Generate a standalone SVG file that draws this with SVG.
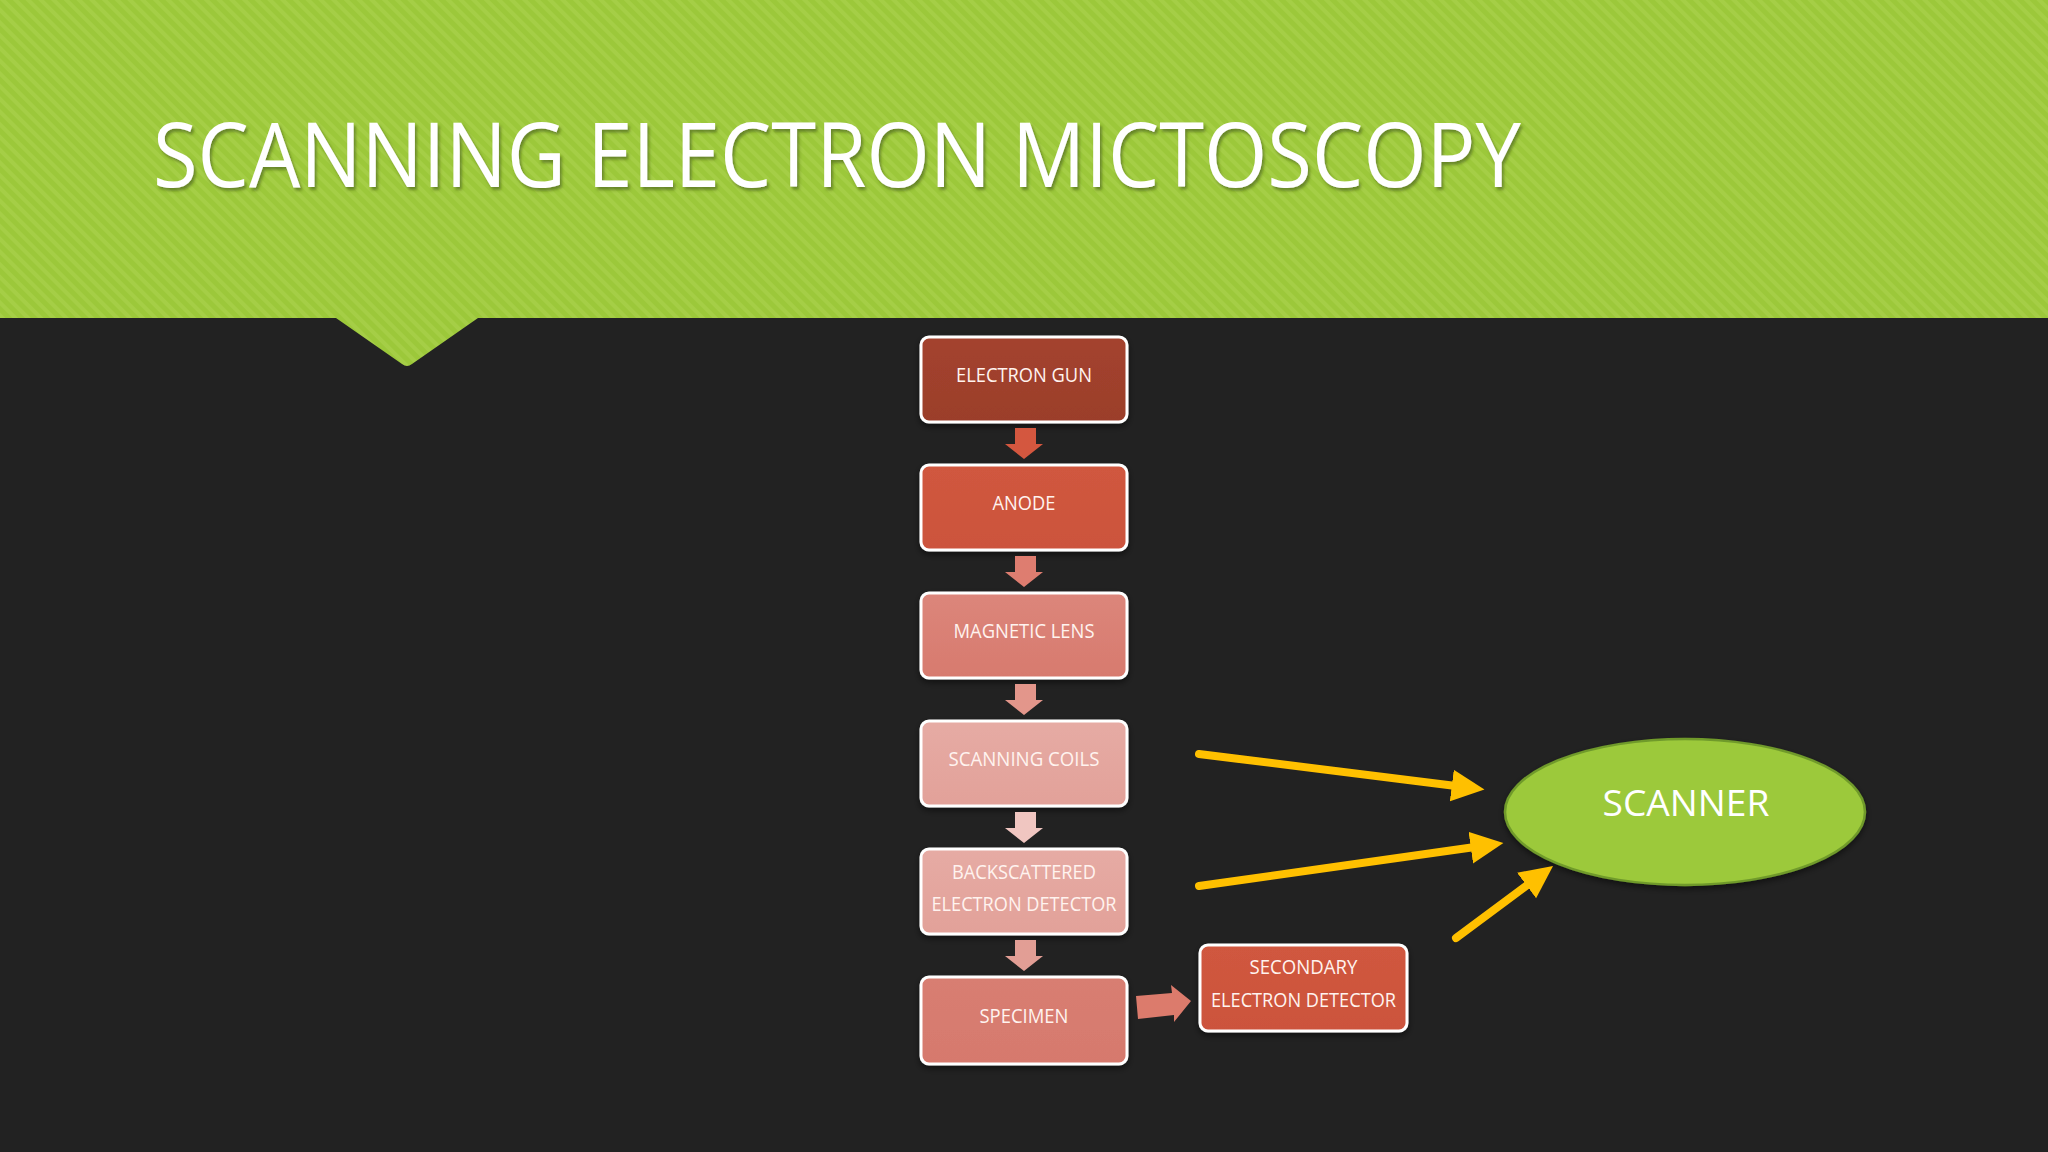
<svg xmlns="http://www.w3.org/2000/svg" width="2048" height="1152" viewBox="0 0 2048 1152">
<defs>
  <pattern id="stripes" width="9" height="9" patternUnits="userSpaceOnUse" patternTransform="rotate(-45)">
    <rect width="9" height="9" fill="#9cc83a"/>
    <rect width="4" height="9" fill="#a5ce46"/>
  </pattern>
  <filter id="tshadow" x="-5%" y="-20%" width="110%" height="150%">
    <feDropShadow dx="2" dy="3" stdDeviation="1.5" flood-color="#3a5010" flood-opacity="0.55"/>
  </filter>
  <filter id="bshadow" x="-10%" y="-10%" width="120%" height="130%">
    <feDropShadow dx="0" dy="3" stdDeviation="3" flood-color="#000" flood-opacity="0.5"/>
  </filter>
  <linearGradient id="g1" x1="0" y1="0" x2="0" y2="1"><stop offset="0" stop-color="#a4432e"/><stop offset="1" stop-color="#9b3e2b"/></linearGradient>
  <linearGradient id="g2" x1="0" y1="0" x2="0" y2="1"><stop offset="0" stop-color="#d0583f"/><stop offset="1" stop-color="#cc533c"/></linearGradient>
  <linearGradient id="g3" x1="0" y1="0" x2="0" y2="1"><stop offset="0" stop-color="#dc867b"/><stop offset="1" stop-color="#d77a6e"/></linearGradient>
  <linearGradient id="g4" x1="0" y1="0" x2="0" y2="1"><stop offset="0" stop-color="#e6aba4"/><stop offset="1" stop-color="#e2a199"/></linearGradient>
  <linearGradient id="g6" x1="0" y1="0" x2="0" y2="1"><stop offset="0" stop-color="#d87e72"/><stop offset="1" stop-color="#d6796d"/></linearGradient>
  <marker id="yhead" markerUnits="userSpaceOnUse" markerWidth="34" markerHeight="34" viewBox="0 -16 32 32" refX="4" refY="0" orient="auto">
    <path d="M0,-15 L31,0 L0,15 z" fill="#ffc000"/>
  </marker>
  <style>
    .box { stroke: #ffffff; stroke-width: 3; filter: url(#bshadow); }
    .lbl { font-family: "Open Sans", "Noto Sans", "DejaVu Sans", sans-serif; font-size: 19.5px; fill: #fff3ef; text-anchor: middle; }
    .yarrow { stroke: #ffc000; stroke-width: 8; stroke-linecap: round; fill: none; marker-end: url(#yhead); }
  </style>
</defs>

<rect width="2048" height="1152" fill="#222222"/>

<g id="header">
  <path d="M0,0 H2048 V318 H478 L412,364 Q407,368 402,364 L336,318 H0 Z" fill="url(#stripes)"/>
  <text x="153" y="187" font-family="Open Sans, Noto Sans, sans-serif" font-size="90" fill="#ffffff" textLength="1368" lengthAdjust="spacingAndGlyphs" filter="url(#tshadow)">SCANNING ELECTRON MICTOSCOPY</text>
</g>

<g id="node-electron-gun">
  <rect class="box" x="921" y="337" width="206" height="85" rx="8" fill="url(#g1)"/>
  <text class="lbl" x="1024" y="382" textLength="136" lengthAdjust="spacingAndGlyphs">ELECTRON GUN</text>
</g>
<g id="node-anode">
  <rect class="box" x="921" y="465" width="206" height="85" rx="8" fill="url(#g2)"/>
  <text class="lbl" x="1024" y="510" textLength="63" lengthAdjust="spacingAndGlyphs">ANODE</text>
</g>
<g id="node-magnetic-lens">
  <rect class="box" x="921" y="593" width="206" height="85" rx="8" fill="url(#g3)"/>
  <text class="lbl" x="1024" y="638" textLength="141" lengthAdjust="spacingAndGlyphs">MAGNETIC LENS</text>
</g>
<g id="node-scanning-coils">
  <rect class="box" x="921" y="721" width="206" height="85" rx="8" fill="url(#g4)"/>
  <text class="lbl" x="1024" y="766" textLength="151" lengthAdjust="spacingAndGlyphs">SCANNING COILS</text>
</g>
<g id="node-backscattered">
  <rect class="box" x="921" y="849" width="206" height="85" rx="8" fill="url(#g4)"/>
  <text class="lbl" x="1024" y="879" textLength="144" lengthAdjust="spacingAndGlyphs">BACKSCATTERED</text>
  <text class="lbl" x="1024" y="911" textLength="185" lengthAdjust="spacingAndGlyphs">ELECTRON DETECTOR</text>
</g>
<g id="node-specimen">
  <rect class="box" x="921" y="977" width="206" height="87" rx="8" fill="url(#g6)"/>
  <text class="lbl" x="1024" y="1023" textLength="89" lengthAdjust="spacingAndGlyphs">SPECIMEN</text>
</g>
<g id="node-secondary">
  <rect class="box" x="1200" y="945" width="207" height="86" rx="8" fill="url(#g2)"/>
  <text class="lbl" x="1303.5" y="974" textLength="108" lengthAdjust="spacingAndGlyphs">SECONDARY</text>
  <text class="lbl" x="1303.5" y="1007" textLength="185" lengthAdjust="spacingAndGlyphs">ELECTRON DETECTOR</text>
</g>
<g id="node-scanner">
  <ellipse cx="1685" cy="812" rx="180" ry="73" fill="#9cc93a" stroke="#6f9a2c" stroke-width="2.5" filter="url(#bshadow)"/>
  <text x="1686" y="816" font-family="Open Sans, Noto Sans, sans-serif" font-size="37" fill="#ffffff" text-anchor="middle" textLength="167" lengthAdjust="spacingAndGlyphs">SCANNER</text>
</g>

<g id="connectors">
  <path d="M1015,428 H1036 V444 H1043 L1024,459 L1005,444 H1015 Z" fill="#d4573f"/>
  <path d="M1015,556 H1036 V572 H1043 L1024,587 L1005,572 H1015 Z" fill="#de7d70"/>
  <path d="M1015,684 H1036 V700 H1043 L1024,715 L1005,700 H1015 Z" fill="#e3968b"/>
  <path d="M1015,812 H1036 V828 H1043 L1024,843 L1005,828 H1015 Z" fill="#f0c6c1"/>
  <path d="M1015,940 H1036 V956 H1043 L1024,971 L1005,956 H1015 Z" fill="#e29e95"/>
  <path d="M1136,996 L1172,993 L1171,985 L1191,1001 L1174,1022 L1174,1015 L1138,1019 Z" fill="#dc7b6c"/>
  <line class="yarrow" x1="1199" y1="754" x2="1456" y2="786"/>
  <line class="yarrow" x1="1199" y1="886" x2="1475" y2="847"/>
  <line class="yarrow" x1="1456" y1="938" x2="1530" y2="883"/>
</g>
</svg>
